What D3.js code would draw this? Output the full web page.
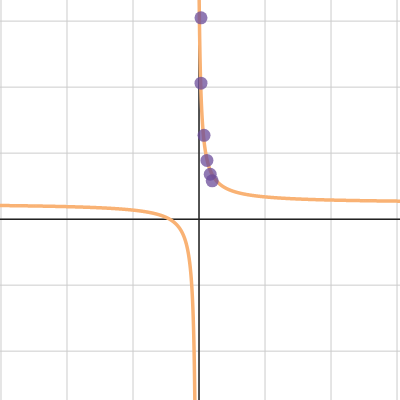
<!DOCTYPE html>
<html><head><script src="https://cdn.jsdelivr.net/npm/d3@7"></script>
<style>body{margin:0;background:#fff}</style></head>
<body><div id="chart"></div>
<script>
// scatter points
const pointX = [0.03, 0.03, 0.076, 0.12, 0.17, 0.2];
const pointY = [3.05, 2.06, 1.27, 0.89, 0.68, 0.58];
// fitted curve y = a/(x - h) + k
const curveA = 0.1, curveH = -0.03, curveK = 0.24;
const gridTicks = [-3, -2, -1, 0, 1, 2, 3];

const width = 400, height = 400;
const x = d3.scaleLinear().domain([-3.015, 3.045]).range([0, width]);
const y = d3.scaleLinear().domain([-2.74, 3.32]).range([height, 0]);

const svg = d3.select("#chart").append("svg").attr("width", width).attr("height", height);

svg.append("g").selectAll("line").data(gridTicks).enter().append("line")
  .attr("x1", d => x(d)).attr("x2", d => x(d)).attr("y1", 0).attr("y2", height)
  .attr("stroke", "#ccc").attr("stroke-width", 1);
svg.append("g").selectAll("line").data(gridTicks).enter().append("line")
  .attr("y1", d => y(d)).attr("y2", d => y(d)).attr("x1", 0).attr("x2", width)
  .attr("stroke", "#ccc").attr("stroke-width", 1);

svg.append("line").attr("x1", x(0)).attr("x2", x(0)).attr("y1", 0).attr("y2", height)
  .attr("stroke", "#222").attr("stroke-width", 1.5);
svg.append("line").attr("y1", y(0)).attr("y2", y(0)).attr("x1", 0).attr("x2", width)
  .attr("stroke", "#222").attr("stroke-width", 1.5);

const f = t => curveA / (t - curveH) + curveK;
const line = d3.line().x(d => x(d[0])).y(d => y(d[1]));
const left = d3.range(-3.1, curveH - 0.0005, 0.0005).map(t => [t, Math.max(f(t), -4)]);
const right = d3.range(curveH + 0.0005, 3.1, 0.0005).map(t => [t, Math.min(f(t), 5)]);
[left, right].forEach(seg => {
  svg.append("path").attr("d", line(seg)).attr("fill", "none")
    .attr("stroke", "#f9b274").attr("stroke-width", 3.5);
});

svg.append("g").selectAll("circle").data(pointX).enter().append("circle")
  .attr("cx", d => x(d)).attr("cy", (d, i) => y(pointY[i])).attr("r", 6.5)
  .attr("fill", "#6b4c9a").attr("fill-opacity", 0.75);
</script></body></html>
